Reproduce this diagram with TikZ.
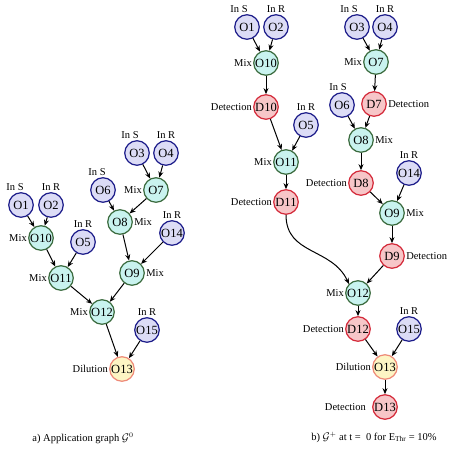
\documentclass[tikz,border=0pt]{standalone}
\usepackage{fontspec}
\setmainfont{Liberation Serif}
\usetikzlibrary{arrows.meta}
\definecolor{inpfill}{HTML}{DCDCF6}
\definecolor{inpdraw}{HTML}{1C1C8A}
\definecolor{mixfill}{HTML}{C9F3EF}
\definecolor{mixdraw}{HTML}{3B6B3E}
\definecolor{detfill}{HTML}{F7C6C8}
\definecolor{detdraw}{HTML}{D42A3A}
\definecolor{dilfill}{HTML}{FDF5C4}
\definecolor{dildraw}{HTML}{EE8A78}
\tikzset{
  opnode/.style={circle, minimum size=24.5pt, inner sep=0pt, line width=1.2pt, font=\fontsize{12.5}{13}\selectfont},
  inp/.style={opnode, draw=inpdraw, fill=inpfill},
  mixn/.style={opnode, draw=mixdraw, fill=mixfill},
  detn/.style={opnode, draw=detdraw, fill=detfill},
  diln/.style={opnode, draw=dildraw, fill=dilfill},
  lbl/.style={inner sep=1.2pt, font=\fontsize{10.5}{12}\selectfont},
  edge/.style={-{Stealth[length=6pt,width=5pt]}, line width=1pt},
}
\begin{document}
\begin{tikzpicture}[x=1pt,y=-1pt]
\useasboundingbox (0,0) rectangle (474,450);
% ---------- left graph ----------
\node[inp] (aO3) at (137,153) {O3};
\node[inp] (aO4) at (166,153) {O4};
\node[mixn] (aO7) at (156,190) {O7};
\node[inp] (aO6) at (103,190) {O6};
\node[mixn] (aO8) at (120,222) {O8};
\node[inp] (aO14) at (172,233) {O14};
\node[mixn] (aO9) at (132,273) {O9};
\node[inp] (aO1) at (21,205) {O1};
\node[inp] (aO2) at (51,205) {O2};
\node[mixn] (aO10) at (41,238) {O10};
\node[inp] (aO5) at (83,242) {O5};
\node[mixn] (aO11) at (61,278) {O11};
\node[mixn] (aO12) at (102,312) {O12};
\node[inp] (aO15) at (147,330) {O15};
\node[diln] (aO13) at (122,369) {O13};

\node[lbl, anchor=south] (aL3) at ([xshift=-7pt]aO3.north) {In S};
\node[lbl, anchor=south] (aL4) at (aO4.north) {In R};
\node[lbl, anchor=east] (aL7) at (aO7.west) {Mix};
\node[lbl, anchor=south] (aL6) at ([xshift=-6pt]aO6.north) {In S};
\node[lbl, anchor=west] (aL8) at (aO8.east) {Mix};
\node[lbl, anchor=south] (aL14) at (aO14.north) {In R};
\node[lbl, anchor=west] (aL9) at (aO9.east) {Mix};
\node[lbl, anchor=south] (aL1) at ([xshift=-6pt]aO1.north) {In S};
\node[lbl, anchor=south] (aL2) at (aO2.north) {In R};
\node[lbl, anchor=east] (aL10) at (aO10.west) {Mix};
\node[lbl, anchor=south] (aL5) at (aO5.north) {In R};
\node[lbl, anchor=east] (aL11) at (aO11.west) {Mix};
\node[lbl, anchor=east] (aL12) at (aO12.west) {Mix};
\node[lbl, anchor=south] (aL15) at (aO15.north) {In R};
\node[lbl, anchor=east] (aL13) at (aO13.west) {Dilution};

\draw[edge] (aO3) -- (aO7);
\draw[edge] (aO4) -- (aO7);
\draw[edge] (aO7) -- (aO8);
\draw[edge] (aO6) -- (aO8);
\draw[edge] (aO8) -- (aO9);
\draw[edge] (aO14) -- (aO9);
\draw[edge] (aO1) -- (aO10);
\draw[edge] (aO2) -- (aO10);
\draw[edge] (aO10) -- (aO11);
\draw[edge] (aO5) -- (aO11);
\draw[edge] (aO11) -- (aO12);
\draw[edge] (aO9) -- (aO12);
\draw[edge] (aO12) -- (aO13);
\draw[edge] (aO15) -- (aO13);

% ---------- right graph ----------
\node[inp] (bO1) at (247,27) {O1};
\node[inp] (bO2) at (276,27) {O2};
\node[mixn] (bO10) at (266,63) {O10};
\node[detn] (bD10) at (266,107) {D10};
\node[inp] (bO5) at (306,125) {O5};
\node[mixn] (bO11) at (286,162) {O11};
\node[detn] (bD11) at (286,202) {D11};
\node[inp] (bO3) at (357,27) {O3};
\node[inp] (bO4) at (385,27) {O4};
\node[mixn] (bO7) at (376,62) {O7};
\node[inp] (bO6) at (342,105) {O6};
\node[detn] (bD7) at (374,104) {D7};
\node[mixn] (bO8) at (361,140) {O8};
\node[detn] (bD8) at (361,183) {D8};
\node[inp] (bO14) at (409,173) {O14};
\node[mixn] (bO9) at (392,213) {O9};
\node[detn] (bD9) at (392,256) {D9};
\node[mixn] (bO12) at (358,293) {O12};
\node[detn] (bD12) at (358,329) {D12};
\node[inp] (bO15) at (409,329) {O15};
\node[diln] (bO13) at (385,367) {O13};
\node[detn] (bD13) at (385,407) {D13};

\node[lbl, anchor=south] (bL1) at ([xshift=-8pt]bO1.north) {In S};
\node[lbl, anchor=south] (bL2) at (bO2.north) {In R};
\node[lbl, anchor=east] (bL10) at (bO10.west) {Mix};
\node[lbl, anchor=east] (bLD10) at (bD10.west) {Detection};
\node[lbl, anchor=south] (bL5) at (bO5.north) {In R};
\node[lbl, anchor=east] (bL11) at (bO11.west) {Mix};
\node[lbl, anchor=east] (bLD11) at (bD11.west) {Detection};
\node[lbl, anchor=south] (bL3) at ([xshift=-8pt]bO3.north) {In S};
\node[lbl, anchor=south] (bL4) at (bO4.north) {In R};
\node[lbl, anchor=east] (bL7) at (bO7.west) {Mix};
\node[lbl, anchor=south] (bL6) at ([xshift=-4pt]bO6.north) {In S};
\node[lbl, anchor=west] (bLD7) at (bD7.east) {Detection};
\node[lbl, anchor=west] (bL8) at (bO8.east) {Mix};
\node[lbl, anchor=east] (bLD8) at (bD8.west) {Detection};
\node[lbl, anchor=south] (bL14) at (bO14.north) {In R};
\node[lbl, anchor=west] (bL9) at (bO9.east) {Mix};
\node[lbl, anchor=west] (bLD9) at (bD9.east) {Detection};
\node[lbl, anchor=east] (bL12) at (bO12.west) {Mix};
\node[lbl, anchor=east] (bLD12) at (bD12.west) {Detection};
\node[lbl, anchor=south] (bL15) at (bO15.north) {In R};
\node[lbl, anchor=east] (bL13) at (bO13.west) {Dilution};
\node[lbl, anchor=east] (bLD13) at ([xshift=-5pt]bD13.west) {Detection};

\draw[edge] (bO1) -- (bO10);
\draw[edge] (bO2) -- (bO10);
\draw[edge] (bO10) -- (bD10);
\draw[edge] (bD10) -- (bO11);
\draw[edge] (bO5) -- (bO11);
\draw[edge] (bO11) -- (bD11);
\draw[edge] (bD11.south) to[out=-90, in=115, looseness=1.1] (bO12.north west);
\draw[edge] (bO3) -- (bO7);
\draw[edge] (bO4) -- (bO7);
\draw[edge] (bO7) -- (bD7);
\draw[edge] (bD7) -- (bO8);
\draw[edge] (bO6) -- (bO8);
\draw[edge] (bO8) -- (bD8);
\draw[edge] (bD8) -- (bO9);
\draw[edge] (bO14) -- (bO9);
\draw[edge] (bO9) -- (bD9);
\draw[edge] (bD9) -- (bO12);
\draw[edge] (bO12) -- (bD12);
\draw[edge] (bD12) -- (bO13);
\draw[edge] (bO15) -- (bO13);
\draw[edge] (bO13) -- (bD13);

% ---------- captions ----------
\node[lbl, font=\fontsize{10.5}{12}\selectfont] (capA) at (83,438) {a) Application graph $\mathcal{G}^{0}$};
\node[lbl, font=\fontsize{10.5}{12}\selectfont] (capB) at (374,437) {b) $\mathcal{G}^{+}$ at t =\ \ 0 for E$_{\mathrm{Thr}}$ = 10\%};
\end{tikzpicture}
\end{document}
